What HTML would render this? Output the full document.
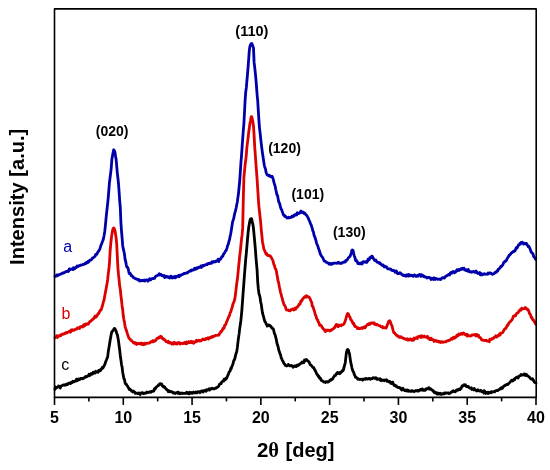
<!DOCTYPE html>
<html><head><meta charset="utf-8"><style>html,body{margin:0;padding:0;background:#fff;}body{width:550px;height:470px;overflow:hidden;}svg{display:block;}</style></head>
<body><svg width="550" height="470" viewBox="0 0 550 470">
<rect width="550" height="470" fill="#fff"/>
<g fill="none" stroke-linejoin="round" stroke-linecap="round" stroke-width="2.8">
<polyline stroke="#000" points="54.90,389.42 55.50,386.90 56.10,388.16 56.70,387.44 57.30,387.28 57.90,387.18 58.50,386.05 59.10,386.73 59.70,386.20 60.30,388.08 60.90,386.31 61.50,385.81 62.10,385.64 62.70,385.25 63.30,384.85 63.90,384.98 64.50,385.22 65.10,384.65 65.70,385.04 66.30,384.24 66.90,384.12 67.50,384.64 68.10,383.89 68.70,383.12 69.30,383.02 69.90,383.13 70.50,383.58 71.10,382.24 71.70,382.02 72.30,382.42 72.90,381.26 73.50,381.35 74.10,381.74 74.70,381.38 75.30,380.94 75.90,381.03 76.50,379.07 77.10,380.78 77.70,379.57 78.30,378.99 78.90,379.74 79.50,379.72 80.10,378.91 80.70,378.35 81.30,378.67 81.90,378.39 82.50,378.88 83.10,378.32 83.70,377.81 84.30,378.04 84.90,377.15 85.50,376.56 86.10,377.08 86.70,376.83 87.30,376.19 87.90,375.64 88.50,375.88 89.10,374.22 89.70,375.49 90.30,375.06 90.90,373.66 91.50,374.18 92.10,373.34 92.70,373.90 93.30,372.21 93.90,372.52 94.50,373.11 95.10,373.13 95.70,371.28 96.30,371.92 96.90,372.12 97.50,371.42 98.10,372.25 98.70,370.55 99.30,370.97 99.90,369.88 100.50,370.67 101.10,369.47 101.70,368.72 102.30,367.33 102.90,368.20 103.50,366.82 104.10,365.76 104.70,364.74 105.30,363.04 105.90,361.23 106.50,359.82 107.10,358.18 107.70,356.67 108.30,351.39 108.90,348.11 109.50,344.54 110.10,340.47 110.70,337.27 111.30,333.74 111.90,331.70 112.50,331.16 113.10,330.63 113.70,329.40 114.30,328.43 114.90,328.53 115.50,329.85 116.10,330.94 116.70,333.28 117.30,334.58 117.90,337.64 118.50,340.94 119.10,345.70 119.70,350.06 120.30,355.71 120.90,359.69 121.50,364.44 122.10,367.17 122.70,372.14 123.30,375.60 123.90,378.75 124.50,379.45 125.10,382.92 125.70,384.24 126.30,384.12 126.90,385.20 127.50,386.07 128.10,387.19 128.70,388.12 129.30,389.42 129.90,388.86 130.50,389.88 131.10,390.07 131.70,391.33 132.30,391.25 132.90,391.95 133.50,391.08 134.10,391.88 134.70,391.93 135.30,393.43 135.90,393.30 136.50,393.06 137.10,393.13 137.70,393.64 138.30,393.04 138.90,392.92 139.50,393.61 140.10,394.58 140.70,393.20 141.30,393.02 141.90,392.68 142.50,392.57 143.10,393.46 143.70,393.59 144.30,393.12 144.90,393.23 145.50,393.05 146.10,392.99 146.70,392.07 147.30,392.52 147.90,392.70 148.50,392.14 149.10,392.17 149.70,391.87 150.30,391.94 150.90,392.32 151.50,391.43 152.10,391.25 152.70,391.39 153.30,390.92 153.90,391.02 154.50,388.58 155.10,389.26 155.70,387.67 156.30,387.07 156.90,386.62 157.50,386.17 158.10,385.63 158.70,384.69 159.30,385.00 159.90,383.77 160.50,383.73 161.10,384.34 161.70,384.03 162.30,385.90 162.90,385.93 163.50,387.11 164.10,386.57 164.70,387.07 165.30,388.07 165.90,389.09 166.50,389.09 167.10,390.09 167.70,390.31 168.30,391.51 168.90,390.73 169.50,391.91 170.10,391.34 170.70,391.42 171.30,391.72 171.90,391.62 172.50,392.40 173.10,392.95 173.70,392.61 174.30,392.92 174.90,393.50 175.50,392.89 176.10,392.92 176.70,392.74 177.30,392.14 177.90,393.38 178.50,392.19 179.10,393.46 179.70,393.18 180.30,393.81 180.90,393.26 181.50,392.93 182.10,393.55 182.70,393.11 183.30,393.31 183.90,393.42 184.50,393.32 185.10,393.29 185.70,392.95 186.30,393.26 186.90,392.26 187.50,393.23 188.10,392.69 188.70,393.82 189.30,393.87 189.90,392.23 190.50,393.25 191.10,393.07 191.70,392.57 192.30,393.31 192.90,392.76 193.50,392.05 194.10,392.73 194.70,392.72 195.30,392.78 195.90,392.03 196.50,392.86 197.10,392.82 197.70,391.76 198.30,391.88 198.90,392.03 199.50,391.65 200.10,392.66 200.70,391.75 201.30,391.00 201.90,390.95 202.50,391.14 203.10,392.13 203.70,390.71 204.30,390.68 204.90,390.69 205.50,390.23 206.10,391.22 206.70,389.66 207.30,390.14 207.90,389.71 208.50,389.79 209.10,388.76 209.70,390.09 210.30,389.01 210.90,388.94 211.50,388.31 212.10,388.26 212.70,388.78 213.30,388.86 213.90,388.63 214.50,388.73 215.10,388.34 215.70,387.84 216.30,388.04 216.90,387.68 217.50,387.02 218.10,386.75 218.70,386.12 219.30,384.74 219.90,383.77 220.50,383.67 221.10,383.65 221.70,382.02 222.30,381.52 222.90,380.96 223.50,381.17 224.10,379.21 224.70,379.87 225.30,379.80 225.90,378.20 226.50,378.58 227.10,377.10 227.70,375.42 228.30,374.60 228.90,372.40 229.50,371.43 230.10,371.18 230.70,368.46 231.30,368.52 231.90,366.24 232.50,365.40 233.10,363.46 233.70,360.78 234.30,359.92 234.90,358.38 235.50,355.62 236.10,353.35 236.70,351.85 237.30,347.91 237.90,342.61 238.50,337.91 239.10,333.90 239.70,328.60 240.30,324.57 240.90,320.20 241.50,314.39 242.10,307.03 242.70,298.66 243.30,290.69 243.90,282.73 244.50,274.25 245.10,266.85 245.70,259.49 246.30,253.32 246.90,246.30 247.50,239.48 248.10,232.69 248.70,227.54 249.30,223.92 249.90,220.89 250.50,218.92 251.10,218.66 251.70,218.90 252.30,222.42 252.90,224.34 253.50,228.55 254.10,235.03 254.70,241.63 255.30,248.35 255.90,256.58 256.50,263.32 257.10,270.33 257.70,281.76 258.30,288.39 258.90,293.40 259.50,295.24 260.10,297.59 260.70,302.05 261.30,304.54 261.90,309.09 262.50,313.12 263.10,315.19 263.70,317.45 264.30,319.61 264.90,321.70 265.50,322.10 266.10,323.88 266.70,324.70 267.30,326.07 267.90,324.95 268.50,324.80 269.10,325.74 269.70,325.31 270.30,325.90 270.90,326.32 271.50,327.60 272.10,327.61 272.70,328.90 273.30,328.87 273.90,331.12 274.50,333.97 275.10,334.73 275.70,337.14 276.30,339.53 276.90,342.90 277.50,345.11 278.10,346.73 278.70,349.75 279.30,351.48 279.90,353.55 280.50,354.61 281.10,357.56 281.70,358.72 282.30,360.16 282.90,361.31 283.50,362.37 284.10,363.79 284.70,364.00 285.30,365.30 285.90,365.49 286.50,366.07 287.10,365.81 287.70,365.37 288.30,364.45 288.90,365.55 289.50,365.79 290.10,365.48 290.70,365.77 291.30,365.49 291.90,365.84 292.50,365.85 293.10,367.21 293.70,366.68 294.30,366.28 294.90,365.70 295.50,366.06 296.10,366.59 296.70,365.82 297.30,364.94 297.90,365.68 298.50,365.27 299.10,364.61 299.70,364.08 300.30,363.86 300.90,363.20 301.50,363.01 302.10,361.94 302.70,362.80 303.30,361.87 303.90,362.43 304.50,359.97 305.10,360.77 305.70,360.38 306.30,359.44 306.90,359.99 307.50,360.67 308.10,361.31 308.70,361.51 309.30,362.48 309.90,363.96 310.50,365.01 311.10,365.25 311.70,365.91 312.30,366.57 312.90,367.62 313.50,367.35 314.10,368.20 314.70,370.05 315.30,370.62 315.90,372.05 316.50,373.44 317.10,374.62 317.70,374.80 318.30,376.66 318.90,376.24 319.50,378.20 320.10,377.88 320.70,378.79 321.30,380.48 321.90,380.61 322.50,380.92 323.10,381.38 323.70,381.98 324.30,381.85 324.90,381.97 325.50,382.58 326.10,381.74 326.70,381.84 327.30,381.63 327.90,382.17 328.50,381.70 329.10,381.45 329.70,380.43 330.30,380.02 330.90,380.18 331.50,379.18 332.10,379.37 332.70,378.84 333.30,377.48 333.90,376.81 334.50,375.66 335.10,375.52 335.70,375.17 336.30,373.54 336.90,373.55 337.50,372.37 338.10,373.59 338.70,373.46 339.30,372.87 339.90,373.67 340.50,372.18 341.10,372.39 341.70,371.97 342.30,370.58 342.90,370.84 343.50,369.76 344.10,366.90 344.70,364.79 345.30,362.52 345.90,356.88 346.50,352.09 347.10,350.16 347.70,349.36 348.30,350.04 348.90,351.96 349.50,353.66 350.10,358.11 350.70,362.09 351.30,364.74 351.90,367.57 352.50,369.99 353.10,371.55 353.70,372.17 354.30,374.64 354.90,375.46 355.50,377.17 356.10,377.04 356.70,377.82 357.30,378.23 357.90,379.36 358.50,378.99 359.10,379.05 359.70,379.51 360.30,379.18 360.90,379.47 361.50,379.35 362.10,379.45 362.70,380.22 363.30,379.00 363.90,379.17 364.50,379.00 365.10,379.39 365.70,378.43 366.30,378.63 366.90,378.92 367.50,379.17 368.10,378.83 368.70,378.56 369.30,378.33 369.90,378.97 370.50,379.36 371.10,378.71 371.70,378.53 372.30,378.55 372.90,377.76 373.50,378.00 374.10,377.97 374.70,378.26 375.30,378.16 375.90,377.69 376.50,379.02 377.10,379.48 377.70,378.69 378.30,379.20 378.90,379.28 379.50,379.70 380.10,378.73 380.70,380.44 381.30,379.56 381.90,380.58 382.50,380.12 383.10,380.01 383.70,380.23 384.30,380.82 384.90,380.01 385.50,380.32 386.10,380.34 386.70,379.81 387.30,381.43 387.90,381.23 388.50,381.18 389.10,382.08 389.70,381.37 390.30,382.20 390.90,383.49 391.50,383.50 392.10,382.27 392.70,382.12 393.30,383.70 393.90,385.19 394.50,384.86 395.10,385.41 395.70,386.21 396.30,385.81 396.90,386.68 397.50,387.26 398.10,387.38 398.70,387.61 399.30,387.37 399.90,388.19 400.50,387.99 401.10,389.13 401.70,390.06 402.30,388.70 402.90,388.28 403.50,389.42 404.10,390.05 404.70,390.58 405.30,390.73 405.90,389.92 406.50,390.03 407.10,391.16 407.70,390.07 408.30,391.24 408.90,390.65 409.50,391.20 410.10,391.23 410.70,391.32 411.30,391.40 411.90,390.54 412.50,391.22 413.10,391.10 413.70,391.25 414.30,391.70 414.90,390.90 415.50,390.61 416.10,390.53 416.70,390.64 417.30,391.08 417.90,390.21 418.50,391.10 419.10,390.55 419.70,390.16 420.30,389.47 420.90,390.12 421.50,390.21 422.10,388.85 422.70,390.22 423.30,390.34 423.90,389.58 424.50,389.56 425.10,390.42 425.70,389.74 426.30,388.60 426.90,388.97 427.50,388.82 428.10,388.76 428.70,387.59 429.30,389.10 429.90,388.38 430.50,388.89 431.10,389.09 431.70,390.11 432.30,390.11 432.90,390.40 433.50,391.50 434.10,392.35 434.70,391.89 435.30,393.12 435.90,392.89 436.50,392.73 437.10,393.95 437.70,392.95 438.30,394.03 438.90,393.42 439.50,394.00 440.10,393.24 440.70,393.48 441.30,394.43 441.90,393.96 442.50,393.84 443.10,393.54 443.70,393.91 444.30,392.91 444.90,392.96 445.50,393.35 446.10,392.93 446.70,392.91 447.30,393.13 447.90,392.99 448.50,392.84 449.10,393.67 449.70,393.21 450.30,393.19 450.90,392.42 451.50,392.03 452.10,391.39 452.70,391.77 453.30,390.71 453.90,391.26 454.50,391.71 455.10,391.91 455.70,391.33 456.30,390.15 456.90,390.54 457.50,389.60 458.10,390.06 458.70,389.20 459.30,389.25 459.90,389.65 460.50,388.36 461.10,388.49 461.70,386.71 462.30,385.74 462.90,385.97 463.50,385.81 464.10,384.65 464.70,385.15 465.30,384.70 465.90,385.69 466.50,386.62 467.10,386.46 467.70,386.49 468.30,386.35 468.90,387.51 469.50,387.99 470.10,388.15 470.70,388.23 471.30,387.72 471.90,389.49 472.50,388.83 473.10,389.04 473.70,389.73 474.30,388.51 474.90,389.78 475.50,389.94 476.10,390.37 476.70,391.01 477.30,390.71 477.90,389.69 478.50,390.56 479.10,390.95 479.70,391.06 480.30,390.48 480.90,390.45 481.50,391.73 482.10,391.80 482.70,391.78 483.30,391.09 483.90,392.99 484.50,390.77 485.10,392.15 485.70,393.49 486.30,392.48 486.90,392.77 487.50,392.14 488.10,393.46 488.70,392.15 489.30,392.90 489.90,392.76 490.50,392.06 491.10,392.89 491.70,391.58 492.30,391.77 492.90,391.94 493.50,391.59 494.10,391.85 494.70,391.89 495.30,391.08 495.90,390.74 496.50,390.52 497.10,390.35 497.70,390.67 498.30,389.86 498.90,389.85 499.50,389.26 500.10,388.52 500.70,389.00 501.30,387.68 501.90,387.84 502.50,388.22 503.10,386.56 503.70,386.71 504.30,385.56 504.90,385.71 505.50,384.83 506.10,384.99 506.70,384.48 507.30,384.38 507.90,384.65 508.50,383.55 509.10,383.28 509.70,382.47 510.30,381.92 510.90,381.19 511.50,380.27 512.10,380.76 512.70,381.10 513.30,380.10 513.90,379.18 514.50,379.88 515.10,378.46 515.70,378.01 516.30,377.38 516.90,377.17 517.50,377.21 518.10,378.02 518.70,376.61 519.30,375.88 519.90,375.75 520.50,375.55 521.10,374.41 521.70,374.98 522.30,375.00 522.90,374.67 523.50,374.81 524.10,373.93 524.70,373.83 525.30,375.46 525.90,375.53 526.50,374.40 527.10,375.48 527.70,375.73 528.30,376.46 528.90,376.86 529.50,377.13 530.10,378.12 530.70,378.72 531.30,379.18 531.90,378.79 532.50,378.74 533.10,380.36 533.70,380.44 534.30,381.87 534.90,382.56 535.50,382.78 536.00,382.82"/>
<polyline stroke="#dc0000" points="54.90,337.79 55.50,337.15 56.10,336.93 56.70,335.64 57.30,337.48 57.90,336.88 58.50,335.88 59.10,336.16 59.70,335.65 60.30,334.98 60.90,335.49 61.50,334.59 62.10,334.34 62.70,333.87 63.30,334.25 63.90,333.74 64.50,333.83 65.10,333.01 65.70,333.14 66.30,332.39 66.90,333.02 67.50,332.45 68.10,332.27 68.70,332.07 69.30,331.11 69.90,331.76 70.50,332.16 71.10,330.06 71.70,329.78 72.30,329.65 72.90,330.58 73.50,329.98 74.10,330.22 74.70,329.80 75.30,329.31 75.90,329.10 76.50,328.64 77.10,328.91 77.70,327.68 78.30,327.79 78.90,327.90 79.50,328.45 80.10,326.93 80.70,326.53 81.30,326.54 81.90,327.05 82.50,326.18 83.10,326.67 83.70,324.77 84.30,325.95 84.90,325.57 85.50,324.00 86.10,324.43 86.70,324.59 87.30,323.64 87.90,323.70 88.50,323.98 89.10,322.50 89.70,321.77 90.30,321.05 90.90,321.27 91.50,320.35 92.10,319.84 92.70,319.35 93.30,319.19 93.90,317.80 94.50,317.03 95.10,316.03 95.70,317.29 96.30,316.14 96.90,316.23 97.50,314.80 98.10,313.70 98.70,313.53 99.30,312.39 99.90,310.86 100.50,309.98 101.10,310.12 101.70,308.01 102.30,306.28 102.90,303.90 103.50,301.47 104.10,299.69 104.70,296.30 105.30,292.92 105.90,290.14 106.50,286.48 107.10,283.36 107.70,279.44 108.30,273.36 108.90,269.32 109.50,262.27 110.10,251.48 110.70,244.58 111.30,238.59 111.90,234.38 112.50,230.96 113.10,228.54 113.70,227.88 114.30,228.74 114.90,230.40 115.50,233.83 116.10,237.63 116.70,244.09 117.30,255.86 117.90,267.56 118.50,274.43 119.10,279.74 119.70,286.10 120.30,289.44 120.90,295.60 121.50,300.22 122.10,305.95 122.70,309.75 123.30,316.11 123.90,319.60 124.50,322.41 125.10,326.53 125.70,328.52 126.30,330.32 126.90,331.97 127.50,334.20 128.10,335.80 128.70,337.61 129.30,338.69 129.90,338.89 130.50,339.77 131.10,340.50 131.70,340.67 132.30,341.49 132.90,342.05 133.50,342.73 134.10,343.30 134.70,342.47 135.30,343.36 135.90,343.04 136.50,344.46 137.10,343.52 137.70,343.88 138.30,343.23 138.90,343.32 139.50,343.86 140.10,343.60 140.70,344.00 141.30,343.06 141.90,344.20 142.50,343.43 143.10,344.75 143.70,343.75 144.30,344.45 144.90,343.17 145.50,344.01 146.10,343.24 146.70,343.30 147.30,343.39 147.90,343.04 148.50,343.14 149.10,343.18 149.70,342.95 150.30,342.40 150.90,341.58 151.50,341.67 152.10,341.77 152.70,340.59 153.30,341.78 153.90,341.03 154.50,340.73 155.10,340.99 155.70,340.36 156.30,339.55 156.90,338.33 157.50,338.45 158.10,338.06 158.70,337.20 159.30,337.96 159.90,337.53 160.50,336.22 161.10,337.35 161.70,336.98 162.30,338.64 162.90,339.01 163.50,338.59 164.10,339.16 164.70,340.06 165.30,340.33 165.90,341.66 166.50,341.70 167.10,341.59 167.70,342.37 168.30,341.33 168.90,342.68 169.50,343.09 170.10,342.69 170.70,342.53 171.30,343.27 171.90,344.05 172.50,343.25 173.10,342.65 173.70,343.98 174.30,342.35 174.90,343.56 175.50,343.03 176.10,343.80 176.70,342.93 177.30,344.03 177.90,343.53 178.50,342.52 179.10,342.40 179.70,343.24 180.30,344.05 180.90,343.46 181.50,343.42 182.10,343.22 182.70,343.64 183.30,343.38 183.90,343.23 184.50,342.50 185.10,343.48 185.70,343.48 186.30,342.06 186.90,343.79 187.50,342.94 188.10,342.27 188.70,341.49 189.30,342.71 189.90,342.60 190.50,341.96 191.10,341.29 191.70,342.67 192.30,341.74 192.90,341.72 193.50,343.30 194.10,342.86 194.70,342.19 195.30,341.40 195.90,341.86 196.50,340.30 197.10,341.39 197.70,340.84 198.30,340.46 198.90,340.18 199.50,341.09 200.10,340.73 200.70,340.61 201.30,340.80 201.90,339.79 202.50,339.44 203.10,339.00 203.70,339.55 204.30,339.91 204.90,339.27 205.50,339.48 206.10,338.37 206.70,338.54 207.30,338.20 207.90,337.77 208.50,339.14 209.10,338.46 209.70,337.48 210.30,337.31 210.90,337.49 211.50,336.62 212.10,337.39 212.70,336.34 213.30,336.61 213.90,336.09 214.50,336.18 215.10,335.58 215.70,335.28 216.30,335.38 216.90,335.30 217.50,335.22 218.10,335.07 218.70,335.31 219.30,334.29 219.90,332.97 220.50,332.63 221.10,331.11 221.70,331.43 222.30,330.23 222.90,328.52 223.50,328.77 224.10,327.94 224.70,325.23 225.30,325.12 225.90,324.06 226.50,322.01 227.10,320.92 227.70,319.18 228.30,318.02 228.90,316.15 229.50,315.76 230.10,312.78 230.70,312.01 231.30,309.88 231.90,308.31 232.50,305.81 233.10,303.64 233.70,302.30 234.30,300.85 234.90,298.45 235.50,293.96 236.10,289.16 236.70,283.68 237.30,279.80 237.90,274.37 238.50,267.82 239.10,262.24 239.70,255.99 240.30,251.53 240.90,245.25 241.50,239.40 242.10,234.88 242.70,227.64 243.30,199.69 243.90,177.06 244.50,171.16 245.10,164.91 245.70,160.21 246.30,155.10 246.90,147.22 247.50,142.69 248.10,137.72 248.70,132.23 249.30,128.29 249.90,123.70 250.50,120.81 251.10,116.90 251.70,116.70 252.30,119.00 252.90,122.16 253.50,126.23 254.10,135.43 254.70,146.58 255.30,154.80 255.90,163.44 256.50,171.26 257.10,179.43 257.70,188.78 258.30,197.99 258.90,206.37 259.50,211.56 260.10,217.21 260.70,222.82 261.30,230.08 261.90,235.88 262.50,241.71 263.10,244.94 263.70,248.28 264.30,250.16 264.90,251.07 265.50,252.77 266.10,254.05 266.70,253.45 267.30,255.22 267.90,255.46 268.50,255.72 269.10,255.52 269.70,256.13 270.30,255.86 270.90,257.09 271.50,257.68 272.10,259.15 272.70,260.15 273.30,262.18 273.90,264.64 274.50,265.48 275.10,268.52 275.70,268.90 276.30,270.85 276.90,274.42 277.50,277.62 278.10,281.04 278.70,282.86 279.30,286.44 279.90,289.22 280.50,292.37 281.10,294.15 281.70,296.90 282.30,298.59 282.90,301.22 283.50,302.95 284.10,304.90 284.70,305.34 285.30,306.63 285.90,308.42 286.50,309.93 287.10,309.89 287.70,310.20 288.30,309.92 288.90,310.62 289.50,310.31 290.10,310.85 290.70,310.07 291.30,309.34 291.90,309.43 292.50,309.11 293.10,308.86 293.70,309.98 294.30,309.55 294.90,308.23 295.50,309.37 296.10,308.16 296.70,307.06 297.30,307.19 297.90,306.39 298.50,305.43 299.10,304.22 299.70,304.38 300.30,303.47 300.90,300.87 301.50,301.25 302.10,300.18 302.70,298.72 303.30,298.37 303.90,297.65 304.50,296.88 305.10,296.69 305.70,297.22 306.30,295.62 306.90,296.43 307.50,296.60 308.10,296.54 308.70,297.22 309.30,297.41 309.90,298.42 310.50,299.77 311.10,301.35 311.70,302.51 312.30,306.39 312.90,306.41 313.50,308.57 314.10,310.30 314.70,312.13 315.30,314.80 315.90,315.58 316.50,318.10 317.10,319.55 317.70,319.90 318.30,322.22 318.90,322.51 319.50,325.26 320.10,324.68 320.70,325.31 321.30,325.67 321.90,326.75 322.50,327.90 323.10,328.53 323.70,329.19 324.30,330.08 324.90,330.71 325.50,331.62 326.10,330.04 326.70,330.60 327.30,330.37 327.90,330.06 328.50,330.14 329.10,330.27 329.70,331.02 330.30,330.41 330.90,329.99 331.50,330.24 332.10,329.70 332.70,329.03 333.30,328.89 333.90,327.81 334.50,327.75 335.10,326.72 335.70,325.42 336.30,324.53 336.90,325.87 337.50,325.20 338.10,326.74 338.70,324.96 339.30,325.78 339.90,325.17 340.50,325.52 341.10,325.74 341.70,324.77 342.30,324.89 342.90,324.73 343.50,324.36 344.10,323.74 344.70,322.42 345.30,320.58 345.90,318.71 346.50,316.52 347.10,314.31 347.70,313.42 348.30,313.71 348.90,315.47 349.50,316.51 350.10,317.48 350.70,319.56 351.30,319.98 351.90,321.09 352.50,322.40 353.10,323.72 353.70,323.29 354.30,324.90 354.90,326.35 355.50,326.62 356.10,326.72 356.70,327.21 357.30,328.46 357.90,327.78 358.50,328.56 359.10,328.73 359.70,328.17 360.30,328.61 360.90,328.12 361.50,327.95 362.10,327.58 362.70,328.45 363.30,327.67 363.90,327.36 364.50,326.71 365.10,327.75 365.70,326.74 366.30,325.83 366.90,325.11 367.50,324.34 368.10,324.92 368.70,324.57 369.30,323.38 369.90,324.34 370.50,323.88 371.10,322.82 371.70,322.93 372.30,323.00 372.90,323.36 373.50,323.32 374.10,322.71 374.70,324.41 375.30,323.98 375.90,324.61 376.50,324.79 377.10,324.26 377.70,324.77 378.30,325.22 378.90,325.56 379.50,325.53 380.10,325.78 380.70,326.59 381.30,326.59 381.90,327.01 382.50,326.56 383.10,327.87 383.70,327.46 384.30,327.70 384.90,327.80 385.50,327.70 386.10,328.12 386.70,326.79 387.30,324.71 387.90,323.71 388.50,321.67 389.10,321.18 389.70,320.79 390.30,321.80 390.90,323.39 391.50,324.89 392.10,326.15 392.70,328.95 393.30,331.18 393.90,332.84 394.50,332.85 395.10,333.45 395.70,334.46 396.30,334.90 396.90,335.85 397.50,335.76 398.10,335.86 398.70,336.92 399.30,337.37 399.90,336.70 400.50,337.32 401.10,336.67 401.70,337.58 402.30,337.55 402.90,338.11 403.50,338.20 404.10,338.57 404.70,338.80 405.30,339.27 405.90,339.29 406.50,339.01 407.10,338.73 407.70,340.05 408.30,340.20 408.90,339.31 409.50,339.86 410.10,338.86 410.70,338.87 411.30,339.54 411.90,340.43 412.50,339.18 413.10,339.22 413.70,340.16 414.30,337.99 414.90,338.79 415.50,338.29 416.10,337.66 416.70,337.64 417.30,338.65 417.90,336.58 418.50,336.82 419.10,336.72 419.70,336.40 420.30,336.03 420.90,337.50 421.50,336.82 422.10,335.84 422.70,336.39 423.30,336.96 423.90,336.99 424.50,336.10 425.10,336.81 425.70,337.02 426.30,337.15 426.90,337.27 427.50,336.33 428.10,338.37 428.70,337.78 429.30,338.83 429.90,339.61 430.50,338.36 431.10,338.15 431.70,339.59 432.30,339.48 432.90,339.76 433.50,339.84 434.10,341.50 434.70,340.64 435.30,340.33 435.90,340.97 436.50,340.76 437.10,341.54 437.70,341.35 438.30,341.12 438.90,342.00 439.50,341.42 440.10,342.14 440.70,342.44 441.30,341.66 441.90,341.54 442.50,341.98 443.10,342.34 443.70,341.90 444.30,341.94 444.90,341.77 445.50,341.81 446.10,341.80 446.70,340.94 447.30,340.84 447.90,340.89 448.50,340.31 449.10,340.42 449.70,340.27 450.30,339.61 450.90,338.92 451.50,338.44 452.10,339.34 452.70,338.58 453.30,337.27 453.90,337.10 454.50,338.16 455.10,337.69 455.70,336.70 456.30,336.93 456.90,335.31 457.50,335.72 458.10,335.71 458.70,334.02 459.30,334.17 459.90,334.59 460.50,334.45 461.10,333.33 461.70,333.61 462.30,334.20 462.90,333.26 463.50,332.91 464.10,333.74 464.70,333.80 465.30,334.89 465.90,334.55 466.50,334.27 467.10,336.05 467.70,334.79 468.30,335.48 468.90,335.77 469.50,335.99 470.10,335.81 470.70,336.08 471.30,335.74 471.90,334.89 472.50,335.21 473.10,334.93 473.70,334.71 474.30,334.77 474.90,334.45 475.50,335.60 476.10,335.99 476.70,334.43 477.30,335.90 477.90,335.92 478.50,335.34 479.10,337.24 479.70,337.21 480.30,337.87 480.90,338.28 481.50,339.67 482.10,340.19 482.70,340.04 483.30,340.43 483.90,340.17 484.50,340.44 485.10,340.11 485.70,340.60 486.30,340.29 486.90,340.88 487.50,341.11 488.10,340.79 488.70,341.11 489.30,341.69 489.90,339.08 490.50,339.91 491.10,339.37 491.70,339.17 492.30,338.41 492.90,338.70 493.50,338.08 494.10,337.44 494.70,337.23 495.30,336.77 495.90,335.66 496.50,337.17 497.10,336.28 497.70,335.72 498.30,336.04 498.90,335.17 499.50,333.96 500.10,334.97 500.70,333.13 501.30,333.25 501.90,332.79 502.50,332.77 503.10,331.99 503.70,330.70 504.30,329.41 504.90,328.72 505.50,328.60 506.10,328.08 506.70,326.61 507.30,325.19 507.90,325.20 508.50,323.67 509.10,322.83 509.70,322.07 510.30,321.69 510.90,320.73 511.50,320.30 512.10,319.67 512.70,318.49 513.30,316.29 513.90,315.85 514.50,316.04 515.10,315.22 515.70,315.66 516.30,313.90 516.90,313.19 517.50,313.10 518.10,312.55 518.70,311.32 519.30,311.14 519.90,309.83 520.50,309.42 521.10,309.97 521.70,308.15 522.30,308.92 522.90,308.57 523.50,308.59 524.10,308.71 524.70,308.63 525.30,307.41 525.90,308.14 526.50,308.54 527.10,309.68 527.70,309.26 528.30,310.23 528.90,311.34 529.50,313.65 530.10,313.96 530.70,315.52 531.30,317.65 531.90,317.29 532.50,319.46 533.10,319.97 533.70,320.31 534.30,321.78 534.90,322.36 535.50,323.78 535.80,324.28"/>
<polyline stroke="#0000aa" points="54.90,276.47 55.50,276.47 56.10,275.99 56.70,274.93 57.30,275.79 57.90,275.32 58.50,274.59 59.10,274.91 59.70,274.56 60.30,274.29 60.90,273.91 61.50,273.94 62.10,273.06 62.70,273.12 63.30,272.73 63.90,273.03 64.50,272.52 65.10,272.11 65.70,271.61 66.30,271.62 66.90,271.47 67.50,271.04 68.10,271.52 68.70,271.06 69.30,268.89 69.90,268.99 70.50,269.53 71.10,269.11 71.70,269.15 72.30,268.89 72.90,269.59 73.50,267.73 74.10,267.86 74.70,268.84 75.30,267.91 75.90,267.68 76.50,266.86 77.10,266.06 77.70,266.72 78.30,266.46 78.90,265.55 79.50,265.59 80.10,265.65 80.70,264.97 81.30,265.15 81.90,265.00 82.50,264.71 83.10,264.17 83.70,264.45 84.30,264.34 84.90,263.78 85.50,262.93 86.10,263.42 86.70,262.50 87.30,262.86 87.90,261.54 88.50,262.17 89.10,261.30 89.70,260.26 90.30,260.28 90.90,259.98 91.50,259.58 92.10,258.43 92.70,257.81 93.30,257.89 93.90,256.97 94.50,256.70 95.10,256.31 95.70,254.41 96.30,254.63 96.90,254.32 97.50,252.71 98.10,251.54 98.70,251.28 99.30,249.87 99.90,248.91 100.50,246.91 101.10,244.83 101.70,243.79 102.30,241.77 102.90,240.49 103.50,238.50 104.10,235.59 104.70,231.88 105.30,226.32 105.90,220.17 106.50,213.89 107.10,208.57 107.70,203.07 108.30,197.03 108.90,189.32 109.50,182.24 110.10,177.38 110.70,172.81 111.30,167.37 111.90,158.95 112.50,155.89 113.10,152.61 113.70,149.79 114.30,150.63 114.90,152.03 115.50,155.89 116.10,159.13 116.70,165.77 117.30,172.81 117.90,178.00 118.50,183.56 119.10,191.85 119.70,200.87 120.30,207.51 120.90,222.36 121.50,231.03 122.10,237.81 122.70,245.41 123.30,249.12 123.90,251.21 124.50,254.50 125.10,259.33 125.70,261.62 126.30,264.74 126.90,267.12 127.50,267.28 128.10,268.33 128.70,271.27 129.30,273.55 129.90,272.94 130.50,273.82 131.10,275.54 131.70,275.50 132.30,276.24 132.90,276.83 133.50,277.71 134.10,277.66 134.70,278.41 135.30,278.55 135.90,278.56 136.50,279.12 137.10,279.06 137.70,279.73 138.30,279.35 138.90,279.54 139.50,280.97 140.10,280.35 140.70,280.46 141.30,280.82 141.90,280.39 142.50,280.48 143.10,280.80 143.70,280.72 144.30,279.98 144.90,280.95 145.50,280.22 146.10,279.95 146.70,279.99 147.30,280.21 147.90,281.16 148.50,279.64 149.10,280.15 149.70,278.79 150.30,279.62 150.90,279.81 151.50,278.96 152.10,278.48 152.70,278.61 153.30,278.54 153.90,278.13 154.50,278.36 155.10,277.04 155.70,276.21 156.30,276.08 156.90,275.72 157.50,275.42 158.10,274.98 158.70,274.81 159.30,273.77 159.90,275.05 160.50,274.45 161.10,274.31 161.70,275.40 162.30,275.94 162.90,275.71 163.50,275.77 164.10,275.49 164.70,277.67 165.30,276.95 165.90,276.20 166.50,276.58 167.10,277.14 167.70,276.41 168.30,277.35 168.90,277.11 169.50,278.02 170.10,277.93 170.70,276.13 171.30,277.52 171.90,276.68 172.50,277.99 173.10,277.44 173.70,277.52 174.30,276.59 174.90,277.91 175.50,277.87 176.10,276.20 176.70,276.76 177.30,276.06 177.90,276.19 178.50,275.37 179.10,276.72 179.70,275.09 180.30,275.22 180.90,275.41 181.50,274.62 182.10,274.61 182.70,274.22 183.30,274.21 183.90,273.46 184.50,273.59 185.10,273.45 185.70,273.13 186.30,273.05 186.90,272.59 187.50,272.81 188.10,271.98 188.70,271.78 189.30,271.22 189.90,271.01 190.50,270.37 191.10,271.00 191.70,269.92 192.30,269.87 192.90,270.18 193.50,269.96 194.10,269.32 194.70,268.27 195.30,269.25 195.90,268.93 196.50,267.85 197.10,268.70 197.70,267.73 198.30,267.28 198.90,267.65 199.50,267.27 200.10,267.22 200.70,266.08 201.30,267.55 201.90,266.09 202.50,265.38 203.10,266.20 203.70,265.46 204.30,265.55 204.90,264.97 205.50,264.87 206.10,264.78 206.70,264.06 207.30,264.56 207.90,263.78 208.50,263.39 209.10,263.67 209.70,263.66 210.30,263.14 210.90,262.63 211.50,263.18 212.10,261.79 212.70,261.95 213.30,262.28 213.90,261.38 214.50,261.88 215.10,261.63 215.70,261.89 216.30,260.76 216.90,260.65 217.50,260.86 218.10,259.17 218.70,261.63 219.30,259.37 219.90,258.95 220.50,259.28 221.10,258.28 221.70,256.64 222.30,256.87 222.90,255.92 223.50,254.21 224.10,253.34 224.70,252.84 225.30,251.24 225.90,250.90 226.50,249.58 227.10,247.64 227.70,245.49 228.30,244.06 228.90,241.51 229.50,239.85 230.10,236.56 230.70,233.83 231.30,230.17 231.90,226.41 232.50,222.31 233.10,220.38 233.70,218.66 234.30,215.36 234.90,212.78 235.50,210.63 236.10,207.97 236.70,205.00 237.30,201.95 237.90,197.58 238.50,193.55 239.10,187.17 239.70,180.86 240.30,172.28 240.90,163.00 241.50,155.82 242.10,147.21 242.70,138.72 243.30,130.76 243.90,123.52 244.50,112.26 245.10,100.51 245.70,92.28 246.30,87.93 246.90,80.99 247.50,74.32 248.10,66.77 248.70,59.17 249.30,50.60 249.90,46.51 250.50,44.70 251.10,43.92 251.70,43.45 252.30,44.67 252.90,46.18 253.50,48.16 254.10,62.40 254.70,67.36 255.30,72.85 255.90,78.99 256.50,86.44 257.10,94.52 257.70,100.55 258.30,110.36 258.90,120.15 259.50,128.05 260.10,132.84 260.70,138.62 261.30,143.90 261.90,148.91 262.50,153.40 263.10,157.31 263.70,161.16 264.30,165.24 264.90,167.60 265.50,169.09 266.10,172.48 266.70,173.88 267.30,174.94 267.90,174.86 268.50,175.86 269.10,175.24 269.70,176.30 270.30,175.95 270.90,176.64 271.50,176.89 272.10,176.19 272.70,177.61 273.30,179.53 273.90,182.13 274.50,184.23 275.10,185.90 275.70,189.23 276.30,191.73 276.90,194.77 277.50,195.28 278.10,198.44 278.70,201.86 279.30,202.63 279.90,204.58 280.50,207.17 281.10,209.03 281.70,209.75 282.30,211.96 282.90,213.22 283.50,215.08 284.10,215.10 284.70,216.31 285.30,216.01 285.90,216.89 286.50,217.29 287.10,218.07 287.70,217.79 288.30,217.12 288.90,217.84 289.50,217.89 290.10,217.44 290.70,217.37 291.30,217.31 291.90,216.32 292.50,216.92 293.10,216.54 293.70,215.58 294.30,216.01 294.90,214.57 295.50,214.55 296.10,214.14 296.70,214.96 297.30,212.80 297.90,213.59 298.50,213.51 299.10,212.95 299.70,213.12 300.30,211.84 300.90,211.08 301.50,212.59 302.10,211.68 302.70,212.27 303.30,212.07 303.90,213.46 304.50,213.67 305.10,213.24 305.70,214.61 306.30,214.96 306.90,215.70 307.50,216.73 308.10,217.68 308.70,219.39 309.30,220.66 309.90,221.79 310.50,223.91 311.10,224.61 311.70,226.68 312.30,228.53 312.90,231.06 313.50,232.19 314.10,235.44 314.70,236.70 315.30,238.52 315.90,240.28 316.50,242.86 317.10,244.50 317.70,245.85 318.30,247.69 318.90,249.66 319.50,251.11 320.10,253.38 320.70,254.82 321.30,255.75 321.90,256.60 322.50,257.26 323.10,258.49 323.70,259.79 324.30,261.17 324.90,261.24 325.50,261.32 326.10,262.10 326.70,262.35 327.30,262.56 327.90,263.02 328.50,263.29 329.10,264.17 329.70,263.34 330.30,264.03 330.90,264.26 331.50,263.44 332.10,264.20 332.70,263.73 333.30,263.13 333.90,263.42 334.50,263.24 335.10,263.06 335.70,263.03 336.30,263.18 336.90,263.32 337.50,262.66 338.10,263.10 338.70,262.34 339.30,263.23 339.90,263.41 340.50,263.18 341.10,263.24 341.70,263.36 342.30,262.54 342.90,262.43 343.50,262.40 344.10,262.19 344.70,261.42 345.30,262.05 345.90,260.31 346.50,260.45 347.10,260.15 347.70,258.97 348.30,258.06 348.90,257.21 349.50,256.97 350.10,256.25 350.70,254.45 351.30,252.91 351.90,250.43 352.50,249.94 353.10,250.46 353.70,253.89 354.30,255.97 354.90,257.30 355.50,260.49 356.10,259.87 356.70,261.04 357.30,261.80 357.90,263.50 358.50,262.76 359.10,263.73 359.70,263.84 360.30,263.78 360.90,263.04 361.50,263.30 362.10,264.02 362.70,261.95 363.30,261.63 363.90,261.64 364.50,262.13 365.10,261.94 365.70,262.29 366.30,261.46 366.90,262.29 367.50,261.33 368.10,259.24 368.70,259.97 369.30,259.68 369.90,257.47 370.50,257.29 371.10,257.58 371.70,256.10 372.30,256.32 372.90,257.49 373.50,258.75 374.10,259.43 374.70,260.42 375.30,260.55 375.90,260.06 376.50,261.23 377.10,262.17 377.70,262.18 378.30,262.49 378.90,262.46 379.50,263.42 380.10,262.93 380.70,264.26 381.30,264.30 381.90,265.33 382.50,265.40 383.10,265.02 383.70,266.01 384.30,266.93 384.90,266.12 385.50,266.75 386.10,266.96 386.70,266.90 387.30,268.41 387.90,268.85 388.50,268.85 389.10,268.83 389.70,268.93 390.30,269.33 390.90,269.11 391.50,270.18 392.10,270.51 392.70,270.70 393.30,270.22 393.90,270.79 394.50,270.93 395.10,272.19 395.70,271.68 396.30,270.95 396.90,272.41 397.50,273.46 398.10,273.17 398.70,273.56 399.30,273.42 399.90,272.68 400.50,273.02 401.10,273.56 401.70,274.37 402.30,274.82 402.90,275.22 403.50,274.90 404.10,275.73 404.70,275.30 405.30,275.27 405.90,276.21 406.50,275.47 407.10,274.67 407.70,275.56 408.30,276.14 408.90,274.54 409.50,275.86 410.10,275.83 410.70,275.23 411.30,275.15 411.90,275.60 412.50,275.51 413.10,276.36 413.70,275.87 414.30,274.84 414.90,275.15 415.50,275.87 416.10,276.41 416.70,275.59 417.30,275.48 417.90,276.17 418.50,275.15 419.10,274.95 419.70,274.40 420.30,274.93 420.90,276.40 421.50,274.78 422.10,275.69 422.70,275.18 423.30,276.15 423.90,276.70 424.50,276.31 425.10,276.98 425.70,277.16 426.30,277.21 426.90,278.03 427.50,277.73 428.10,277.35 428.70,277.30 429.30,277.36 429.90,278.16 430.50,277.88 431.10,279.53 431.70,279.20 432.30,278.28 432.90,278.32 433.50,279.44 434.10,277.76 434.70,278.58 435.30,279.37 435.90,278.50 436.50,278.76 437.10,278.82 437.70,279.33 438.30,279.07 438.90,279.20 439.50,279.30 440.10,279.01 440.70,279.56 441.30,278.63 441.90,278.18 442.50,277.78 443.10,277.53 443.70,277.69 444.30,278.07 444.90,277.24 445.50,276.50 446.10,275.94 446.70,275.87 447.30,275.59 447.90,275.16 448.50,274.38 449.10,274.51 449.70,274.92 450.30,272.99 450.90,273.61 451.50,272.33 452.10,273.14 452.70,272.34 453.30,271.35 453.90,272.14 454.50,272.72 455.10,271.60 455.70,271.88 456.30,271.03 456.90,269.76 457.50,270.86 458.10,270.18 458.70,269.43 459.30,270.30 459.90,269.76 460.50,269.07 461.10,269.49 461.70,268.40 462.30,268.99 462.90,268.13 463.50,268.92 464.10,268.30 464.70,269.89 465.30,269.62 465.90,270.59 466.50,269.82 467.10,270.28 467.70,271.16 468.30,269.57 468.90,270.60 469.50,271.83 470.10,271.72 470.70,272.14 471.30,271.65 471.90,272.23 472.50,271.72 473.10,271.52 473.70,271.48 474.30,272.17 474.90,272.30 475.50,272.39 476.10,271.07 476.70,272.00 477.30,272.90 477.90,273.47 478.50,273.20 479.10,273.19 479.70,272.60 480.30,274.86 480.90,273.39 481.50,274.88 482.10,274.90 482.70,274.33 483.30,273.97 483.90,274.36 484.50,273.72 485.10,274.35 485.70,274.06 486.30,274.11 486.90,274.09 487.50,274.28 488.10,273.06 488.70,273.72 489.30,272.83 489.90,272.86 490.50,273.11 491.10,273.05 491.70,274.15 492.30,274.21 492.90,274.43 493.50,273.75 494.10,273.71 494.70,272.95 495.30,272.24 495.90,272.55 496.50,271.93 497.10,270.71 497.70,271.02 498.30,269.24 498.90,269.32 499.50,268.33 500.10,267.58 500.70,266.49 501.30,266.71 501.90,265.76 502.50,265.33 503.10,264.07 503.70,262.62 504.30,262.33 504.90,261.18 505.50,261.23 506.10,260.83 506.70,259.57 507.30,258.24 507.90,257.45 508.50,256.84 509.10,255.14 509.70,255.12 510.30,254.41 510.90,253.41 511.50,252.92 512.10,252.72 512.70,251.75 513.30,251.28 513.90,251.60 514.50,250.79 515.10,250.92 515.70,248.87 516.30,247.67 516.90,248.18 517.50,247.35 518.10,245.72 518.70,244.68 519.30,244.86 519.90,243.57 520.50,243.84 521.10,242.54 521.70,243.22 522.30,242.13 522.90,243.08 523.50,244.01 524.10,243.21 524.70,243.86 525.30,243.31 525.90,243.37 526.50,243.39 527.10,245.16 527.70,245.26 528.30,246.83 528.90,246.22 529.50,247.58 530.10,248.86 530.70,250.82 531.30,252.38 531.90,252.46 532.50,253.38 533.10,254.19 533.70,256.80 534.30,257.14 534.90,257.88 535.50,259.17 535.80,258.40"/>
</g>
<path d="M54.5,397.4 V8.9 H536.2 V397.4 Z" fill="none" stroke="#000" stroke-width="1.6" stroke-linejoin="round"/>
<g stroke="#000" stroke-width="1.6"><line x1="54.50" y1="397.40" x2="54.50" y2="404.90"/><line x1="88.89" y1="397.40" x2="88.89" y2="401.40"/><line x1="123.29" y1="397.40" x2="123.29" y2="404.90"/><line x1="157.68" y1="397.40" x2="157.68" y2="401.40"/><line x1="192.07" y1="397.40" x2="192.07" y2="404.90"/><line x1="226.46" y1="397.40" x2="226.46" y2="401.40"/><line x1="260.86" y1="397.40" x2="260.86" y2="404.90"/><line x1="295.25" y1="397.40" x2="295.25" y2="401.40"/><line x1="329.64" y1="397.40" x2="329.64" y2="404.90"/><line x1="364.04" y1="397.40" x2="364.04" y2="401.40"/><line x1="398.43" y1="397.40" x2="398.43" y2="404.90"/><line x1="432.82" y1="397.40" x2="432.82" y2="401.40"/><line x1="467.21" y1="397.40" x2="467.21" y2="404.90"/><line x1="501.61" y1="397.40" x2="501.61" y2="401.40"/><line x1="536.00" y1="397.40" x2="536.00" y2="404.90"/></g>
<g font-family="'Liberation Sans', sans-serif" font-weight="bold" font-size="16" fill="#000"><text x="54.50" y="423.2" text-anchor="middle">5</text><text x="123.29" y="423.2" text-anchor="middle">10</text><text x="192.07" y="423.2" text-anchor="middle">15</text><text x="260.86" y="423.2" text-anchor="middle">20</text><text x="329.64" y="423.2" text-anchor="middle">25</text><text x="398.43" y="423.2" text-anchor="middle">30</text><text x="467.21" y="423.2" text-anchor="middle">35</text><text x="536.00" y="423.2" text-anchor="middle">40</text></g>
<g font-family="'Liberation Sans', sans-serif" font-weight="bold" font-size="20" fill="#000"><text x="257" y="456.5" font-size="20.5">2</text><text x="268.3" y="456.5" font-family="'Liberation Serif', serif" font-size="20.5">θ</text><text x="285.5" y="456.5">[deg]</text></g>
<text transform="translate(23.8,196.85) rotate(-90)" text-anchor="middle" font-family="'Liberation Sans', sans-serif" font-weight="bold" font-size="20.1" fill="#000">Intensity [a.u.]</text>
<g font-family="'Liberation Sans', sans-serif" font-weight="bold" font-size="14" fill="#000" text-anchor="middle">
<text x="112.2" y="135.5">(020)</text>
<text x="251.9" y="36" font-size="14.5">(110)</text>
<text x="284.5" y="153">(120)</text>
<text x="307.8" y="198.7">(101)</text>
<text x="349.3" y="236.7">(130)</text>
</g>
<g font-family="'Liberation Sans', sans-serif" font-size="16">
<text x="63.2" y="251.8" fill="#0000aa">a</text>
<text x="61.6" y="319" fill="#dc0000">b</text>
<text x="61.3" y="370.1" fill="#000">c</text>
</g>
</svg></body></html>
